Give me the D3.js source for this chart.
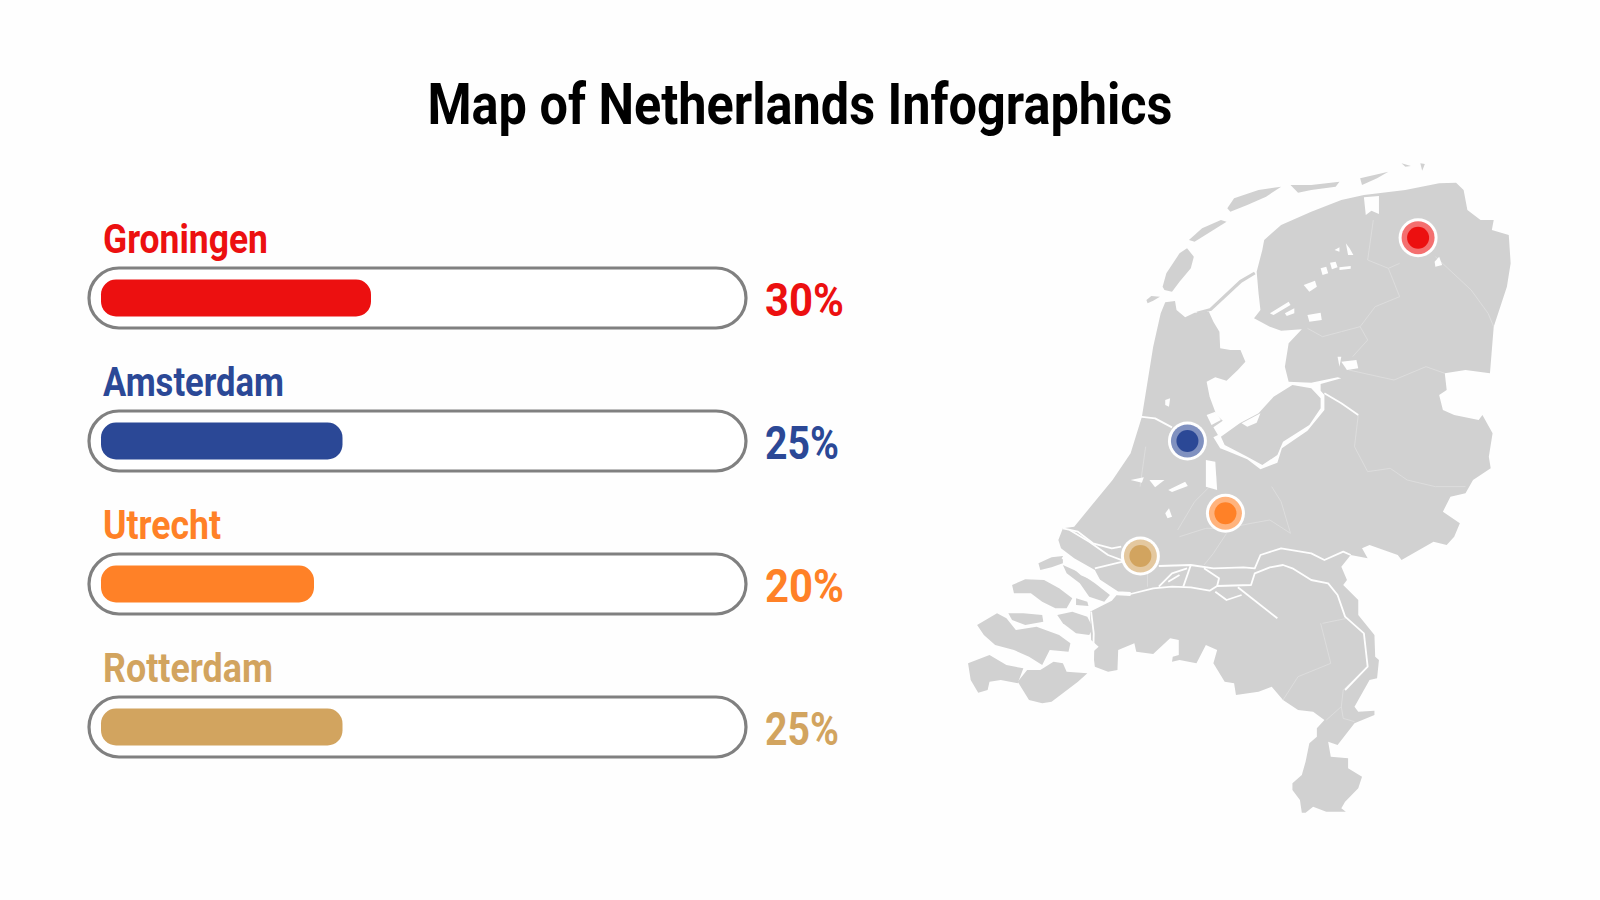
<!DOCTYPE html>
<html>
<head>
<meta charset="utf-8">
<script src="https://cdn.jsdelivr.net/npm/d3@7"></script>
<style>
  html, body { margin: 0; padding: 0; background: #fefefe; }
  text { font-family: "Liberation Sans Narrow", Roboto, sans-serif; font-weight: 700; }
</style>
</head>
<body>
<div id="chart"></div>
<script>
// bar data
var cities = ['Groningen', 'Amsterdam', 'Utrecht', 'Rotterdam'];
var shares = [30, 25, 20, 25];
var cityColors = ['#ec1010', '#2b4896', '#ff8127', '#d2a45f'];
var labelWidths = [165, 181, 118, 170];
var valueWidths = [79, 74, 79, 74];

// pins and outlines are in "map units", scaled onto the page further down
var pinX = [1244, 631, 732, 506];
var pinY = [293, 903, 1120, 1248];

var mainland = [[572,487],[598,483],[602,510],[625,532],[650,518],[688,515],[700,545],[716,575],[718,625],[745,630],[772,630],[785,665],[765,690],[735,722],[705,712],[682,725],[690,770],[708,825],[725,842],[700,862],[712,885],[700,892],[718,925],[735,932],[790,958],[825,988],[870,968],[882,925],[950,872],[995,810],[995,765],[985,752],[985,732],[1040,715],[1030,712],[960,728],[900,725],[890,680],[900,610],[935,568],[880,572],[850,560],[808,535],[825,510],[820,460],[815,395],[830,330],[835,300],[880,255],[960,215],[1040,180],[1100,165],[1210,150],[1300,130],[1345,128],[1365,150],[1375,210],[1410,240],[1445,240],[1440,270],[1485,285],[1490,370],[1480,440],[1445,560],[1435,700],[1370,690],[1315,700],[1320,750],[1300,765],[1310,810],[1340,825],[1405,840],[1415,825],[1442,880],[1432,950],[1437,985],[1390,1020],[1370,1060],[1330,1070],[1310,1115],[1355,1150],[1340,1190],[1320,1215],[1285,1205],[1200,1260],[1190,1245],[1115,1215],[1095,1225],[1110,1255],[1065,1245],[1040,1280],[1055,1320],[1045,1335],[1085,1380],[1085,1425],[1128,1485],[1130,1550],[1140,1560],[1135,1615],[1115,1620],[1075,1700],[1085,1715],[1128,1712],[1128,1725],[1075,1750],[1030,1815],[1005,1805],[1012,1850],[1058,1855],[1058,1885],[1095,1910],[1085,1945],[1050,1985],[1040,2005],[1052,2015],[1000,2015],[965,2000],[945,2018],[935,2018],[930,1980],[910,1950],[910,1930],[935,1905],[945,1865],[955,1810],[975,1790],[975,1765],[995,1740],[965,1715],[925,1710],[885,1680],[855,1640],[820,1655],[760,1665],[755,1630],[730,1625],[700,1570],[710,1530],[680,1515],[655,1570],[610,1560],[590,1565],[592,1550],[608,1545],[608,1500],[585,1495],[540,1542],[495,1535],[490,1510],[447,1530],[445,1590],[420,1595],[385,1580],[380,1535],[395,1520],[375,1500],[372,1415],[430,1382],[447,1360],[400,1322],[385,1290],[330,1255],[295,1225],[288,1200],[300,1165],[330,1160],[432,1020],[480,940],[510,830],[540,620],[560,520]];

var flevoland = [[720,890],[770,850],[820,820],[860,770],[910,735],[960,745],[985,775],[985,805],[955,855],[885,905],[870,945],[830,975],[790,950],[730,915]];
var afsluitdijk = [[655,515],[690,505],[770,420],[808,395],[812,403],[775,428],[695,512],[660,522]];

var islands = [
  [[565,440],[575,400],[610,340],[630,325],[648,350],[640,385],[610,425],[590,455],[570,450]],
  [[522,480],[535,468],[558,470],[540,482],[525,490]],
  [[635,300],[670,265],[720,240],[735,245],[700,270],[650,305]],
  [[737,205],[755,175],[820,150],[880,140],[840,170],[790,195],[745,215]],
  [[905,135],[960,135],[1035,125],[1025,140],[960,150],[925,158]],
  [[1090,115],[1165,95],[1135,115],[1095,135]],
  [[1200,70],[1225,78],[1210,80]],
  [[1250,70],[1262,72],[1255,92]],
  [[235,1270],[270,1252],[300,1248],[300,1270],[270,1282],[240,1290]],
  [[300,1275],[340,1295],[385,1330],[425,1365],[410,1385],[370,1370],[345,1330],[310,1300]],
  [[165,1335],[200,1318],[250,1320],[290,1345],[325,1375],[310,1405],[280,1405],[245,1385],[215,1360],[170,1360]],
  [[335,1375],[365,1385],[368,1398],[335,1395]],
  [[155,1420],[195,1420],[245,1425],[248,1445],[200,1455],[165,1440]],
  [[285,1425],[325,1415],[365,1430],[380,1465],[370,1485],[335,1480],[300,1450]],
  [[72,1455],[125,1420],[150,1435],[175,1470],[230,1460],[290,1485],[320,1510],[315,1535],[265,1530],[245,1575],[210,1550],[170,1530],[120,1515],[90,1485]],
  [[48,1570],[105,1545],[150,1575],[195,1585],[180,1630],[135,1620],[105,1625],[100,1650],[75,1658],[55,1620]],
  [[205,1590],[240,1590],[275,1565],[300,1570],[310,1595],[365,1600],[340,1625],[270,1685],[245,1690],[210,1680],[180,1625]]
];

// rivers and small lakes cut out of the land in white
var rivers = [
  [[300,1165],[340,1175],[380,1210],[430,1225],[455,1220]],
  [[318,1170],[370,1205],[420,1245],[460,1262]],
  [[555,1278],[640,1275],[700,1285],[780,1282],[810,1285],[825,1245],[880,1225],[960,1240],[995,1260],[1045,1235],[1065,1245]],
  [[455,1360],[480,1362],[540,1345],[590,1340],[640,1342],[690,1352],[710,1338],[800,1335],[810,1300],[850,1282],[885,1275],[910,1285],[960,1320],[1005,1330],[1030,1365],[1050,1430],[1100,1480],[1110,1580],[1050,1650]],
  [[640,1275],[620,1340]],
  [[555,1340],[590,1300],[630,1285]],
  [[580,1325],[610,1305]],
  [[675,1285],[715,1315],[710,1338]],
  [[765,1342],[870,1435]],
  [[705,1355],[735,1380],[775,1365]],
  [[385,1285],[440,1270],[460,1265]],
  [[375,1415],[382,1480],[380,1575]],
  [[505,830],[545,835],[590,862]],
  [[995,760],[1040,790],[1085,825]]
];
var wideWater = [
  [[300,1250],[350,1300],[390,1320],[445,1360],[480,1362]]
];
var lakes = [
  [[1100,172],[1140,168],[1140,222],[1120,212],[1105,225]],
  [[850,520],[900,485],[905,495],[860,525]],
  [[890,520],[915,505],[915,520],[895,528]],
  [[950,525],[985,518],[988,540],[955,545]],
  [[940,435],[970,422],[975,440],[955,455]],
  [[985,385],[1000,380],[1005,400],[990,405]],
  [[1010,368],[1025,365],[1030,382],[1015,388]],
  [[1035,382],[1065,378],[1065,386],[1035,390]],
  [[1022,330],[1035,322],[1035,335]],
  [[1052,310],[1062,325],[1072,345],[1058,345]],
  [[1288,365],[1300,350],[1308,375],[1290,380]],
  [[1040,665],[1080,660],[1085,685],[1055,690]],
  [[1030,650],[1040,650],[1035,680]],
  [[572,780],[585,775],[582,800],[572,795]],
  [[682,825],[705,815],[720,840],[695,855]],
  [[775,850],[825,820],[815,848],[790,860]],
  [[480,1020],[515,1012],[510,1028]],
  [[530,1020],[570,1020],[545,1042]],
  [[680,960],[705,965],[710,1050],[680,1040]],
  [[580,1050],[625,1025],[632,1038],[590,1056]],
  [[572,1120],[582,1105],[590,1130],[578,1135]]
];
var borders = [
  [[1110,360],[1125,240]],
  [[1110,360],[1165,385],[1195,370]],
  [[1165,385],[1195,470],[1130,500],[1090,560],[1040,575],[990,590],[950,565]],
  [[1290,350],[1385,450],[1430,520],[1445,560]],
  [[1090,560],[1110,600],[1070,650]],
  [[1060,690],[1180,720],[1265,680],[1315,700]],
  [[1085,825],[1075,920],[1110,995],[1170,985],[1215,1020],[1290,1040],[1370,1040]],
  [[520,920],[505,1040]],
  [[605,1170],[650,1085],[690,1040]],
  [[610,1190],[680,1165],[735,1165],[800,1150],[850,1140],[905,1180],[880,1085],[855,1040]],
  [[735,1180],[700,1240],[675,1275]],
  [[525,1290],[525,1340]],
  [[990,1450],[1055,1435]],
  [[985,1450],[1012,1570],[925,1610],[885,1680]],
  [[1110,1580],[1045,1650],[1040,1700],[1000,1740]],
  [[1040,1700],[1045,1735],[1075,1745]]
];

var svgWidth = 1600;
var svgHeight = 900;

var svg = d3.select('#chart')
    .append('svg')
    .attr('width', svgWidth)
    .attr('height', svgHeight);

svg.append('text')
    .attr('x', 800)
    .attr('y', 124)
    .attr('text-anchor', 'middle')
    .attr('font-size', 58)
    .attr('textLength', 745)
    .attr('lengthAdjust', 'spacingAndGlyphs')
    .attr('fill', '#000')
    .text('Map of Netherlands Infographics');

/*
The bars
*/
var rowY = d3.scalePoint().domain(cities).range([298, 727]);
var fillWidth = d3.scaleLinear().domain([0, 100]).range([99, 669]);

var rows = svg.append('g').selectAll('g')
    .data(cities)
    .enter()
    .append('g')
    .attr('transform', d => `translate(0,${rowY(d)})`);

rows.append('rect')
    .attr('x', 89)
    .attr('y', -30)
    .attr('width', 657)
    .attr('height', 60)
    .attr('rx', 30)
    .attr('fill', '#fff')
    .attr('stroke', '#808080')
    .attr('stroke-width', 3.2);

rows.append('rect')
    .attr('x', 101)
    .attr('y', -18.5)
    .attr('width', (d, i) => fillWidth(shares[i]))
    .attr('height', 37)
    .attr('rx', 15)
    .attr('fill', (d, i) => cityColors[i]);

rows.append('text')
    .attr('x', 103)
    .attr('y', -45)
    .attr('font-size', 40)
    .attr('textLength', (d, i) => labelWidths[i])
    .attr('lengthAdjust', 'spacingAndGlyphs')
    .attr('fill', (d, i) => cityColors[i])
    .text(d => d);

rows.append('text')
    .attr('x', 765)
    .attr('y', 18)
    .attr('font-size', 47)
    .attr('textLength', (d, i) => valueWidths[i])
    .attr('lengthAdjust', 'spacingAndGlyphs')
    .attr('fill', (d, i) => cityColors[i])
    .text((d, i) => shares[i] + '%');

/*
The map
*/
var mapX = d3.scaleLinear().domain([0, 1568]).range([950, 1540]);
var mapY = d3.scaleLinear().domain([0, 2070]).range([140, 830]);
var mapLine = d3.line().x(d => mapX(d[0])).y(d => mapY(d[1]));

var mapGroup = svg.append('g');

mapGroup.selectAll('path.land')
    .data([mainland, flevoland, afsluitdijk].concat(islands))
    .enter()
    .append('path')
    .attr('class', 'land')
    .attr('d', d => mapLine(d) + 'Z')
    .attr('fill', '#d1d1d1');

mapGroup.selectAll('path.border')
    .data(borders)
    .enter()
    .append('path')
    .attr('class', 'border')
    .attr('d', mapLine)
    .attr('fill', 'none')
    .attr('stroke', '#dfdfdf')
    .attr('stroke-width', 0.8);

mapGroup.selectAll('path.lake')
    .data(lakes)
    .enter()
    .append('path')
    .attr('class', 'lake')
    .attr('d', d => mapLine(d) + 'Z')
    .attr('fill', '#fefefe');

mapGroup.selectAll('path.river')
    .data(rivers)
    .enter()
    .append('path')
    .attr('class', 'river')
    .attr('d', mapLine)
    .attr('fill', 'none')
    .attr('stroke', '#fefefe')
    .attr('stroke-width', 1.8)
    .attr('stroke-linejoin', 'round');

mapGroup.selectAll('path.wide')
    .data(wideWater)
    .enter()
    .append('path')
    .attr('class', 'wide')
    .attr('d', mapLine)
    .attr('fill', 'none')
    .attr('stroke', '#fefefe')
    .attr('stroke-width', 4)
    .attr('stroke-linejoin', 'round');

var pins = svg.append('g').selectAll('g')
    .data(cities)
    .enter()
    .append('g')
    .attr('transform', (d, i) => `translate(${mapX(pinX[i])},${mapY(pinY[i])})`);

pins.append('circle').attr('r', 19.5).attr('fill', '#fff');
pins.append('circle').attr('r', 16.5)
    .attr('fill', (d, i) => cityColors[i])
    .attr('opacity', 0.6);
pins.append('circle').attr('r', 11)
    .attr('fill', (d, i) => cityColors[i]);
</script>
</body>
</html>
